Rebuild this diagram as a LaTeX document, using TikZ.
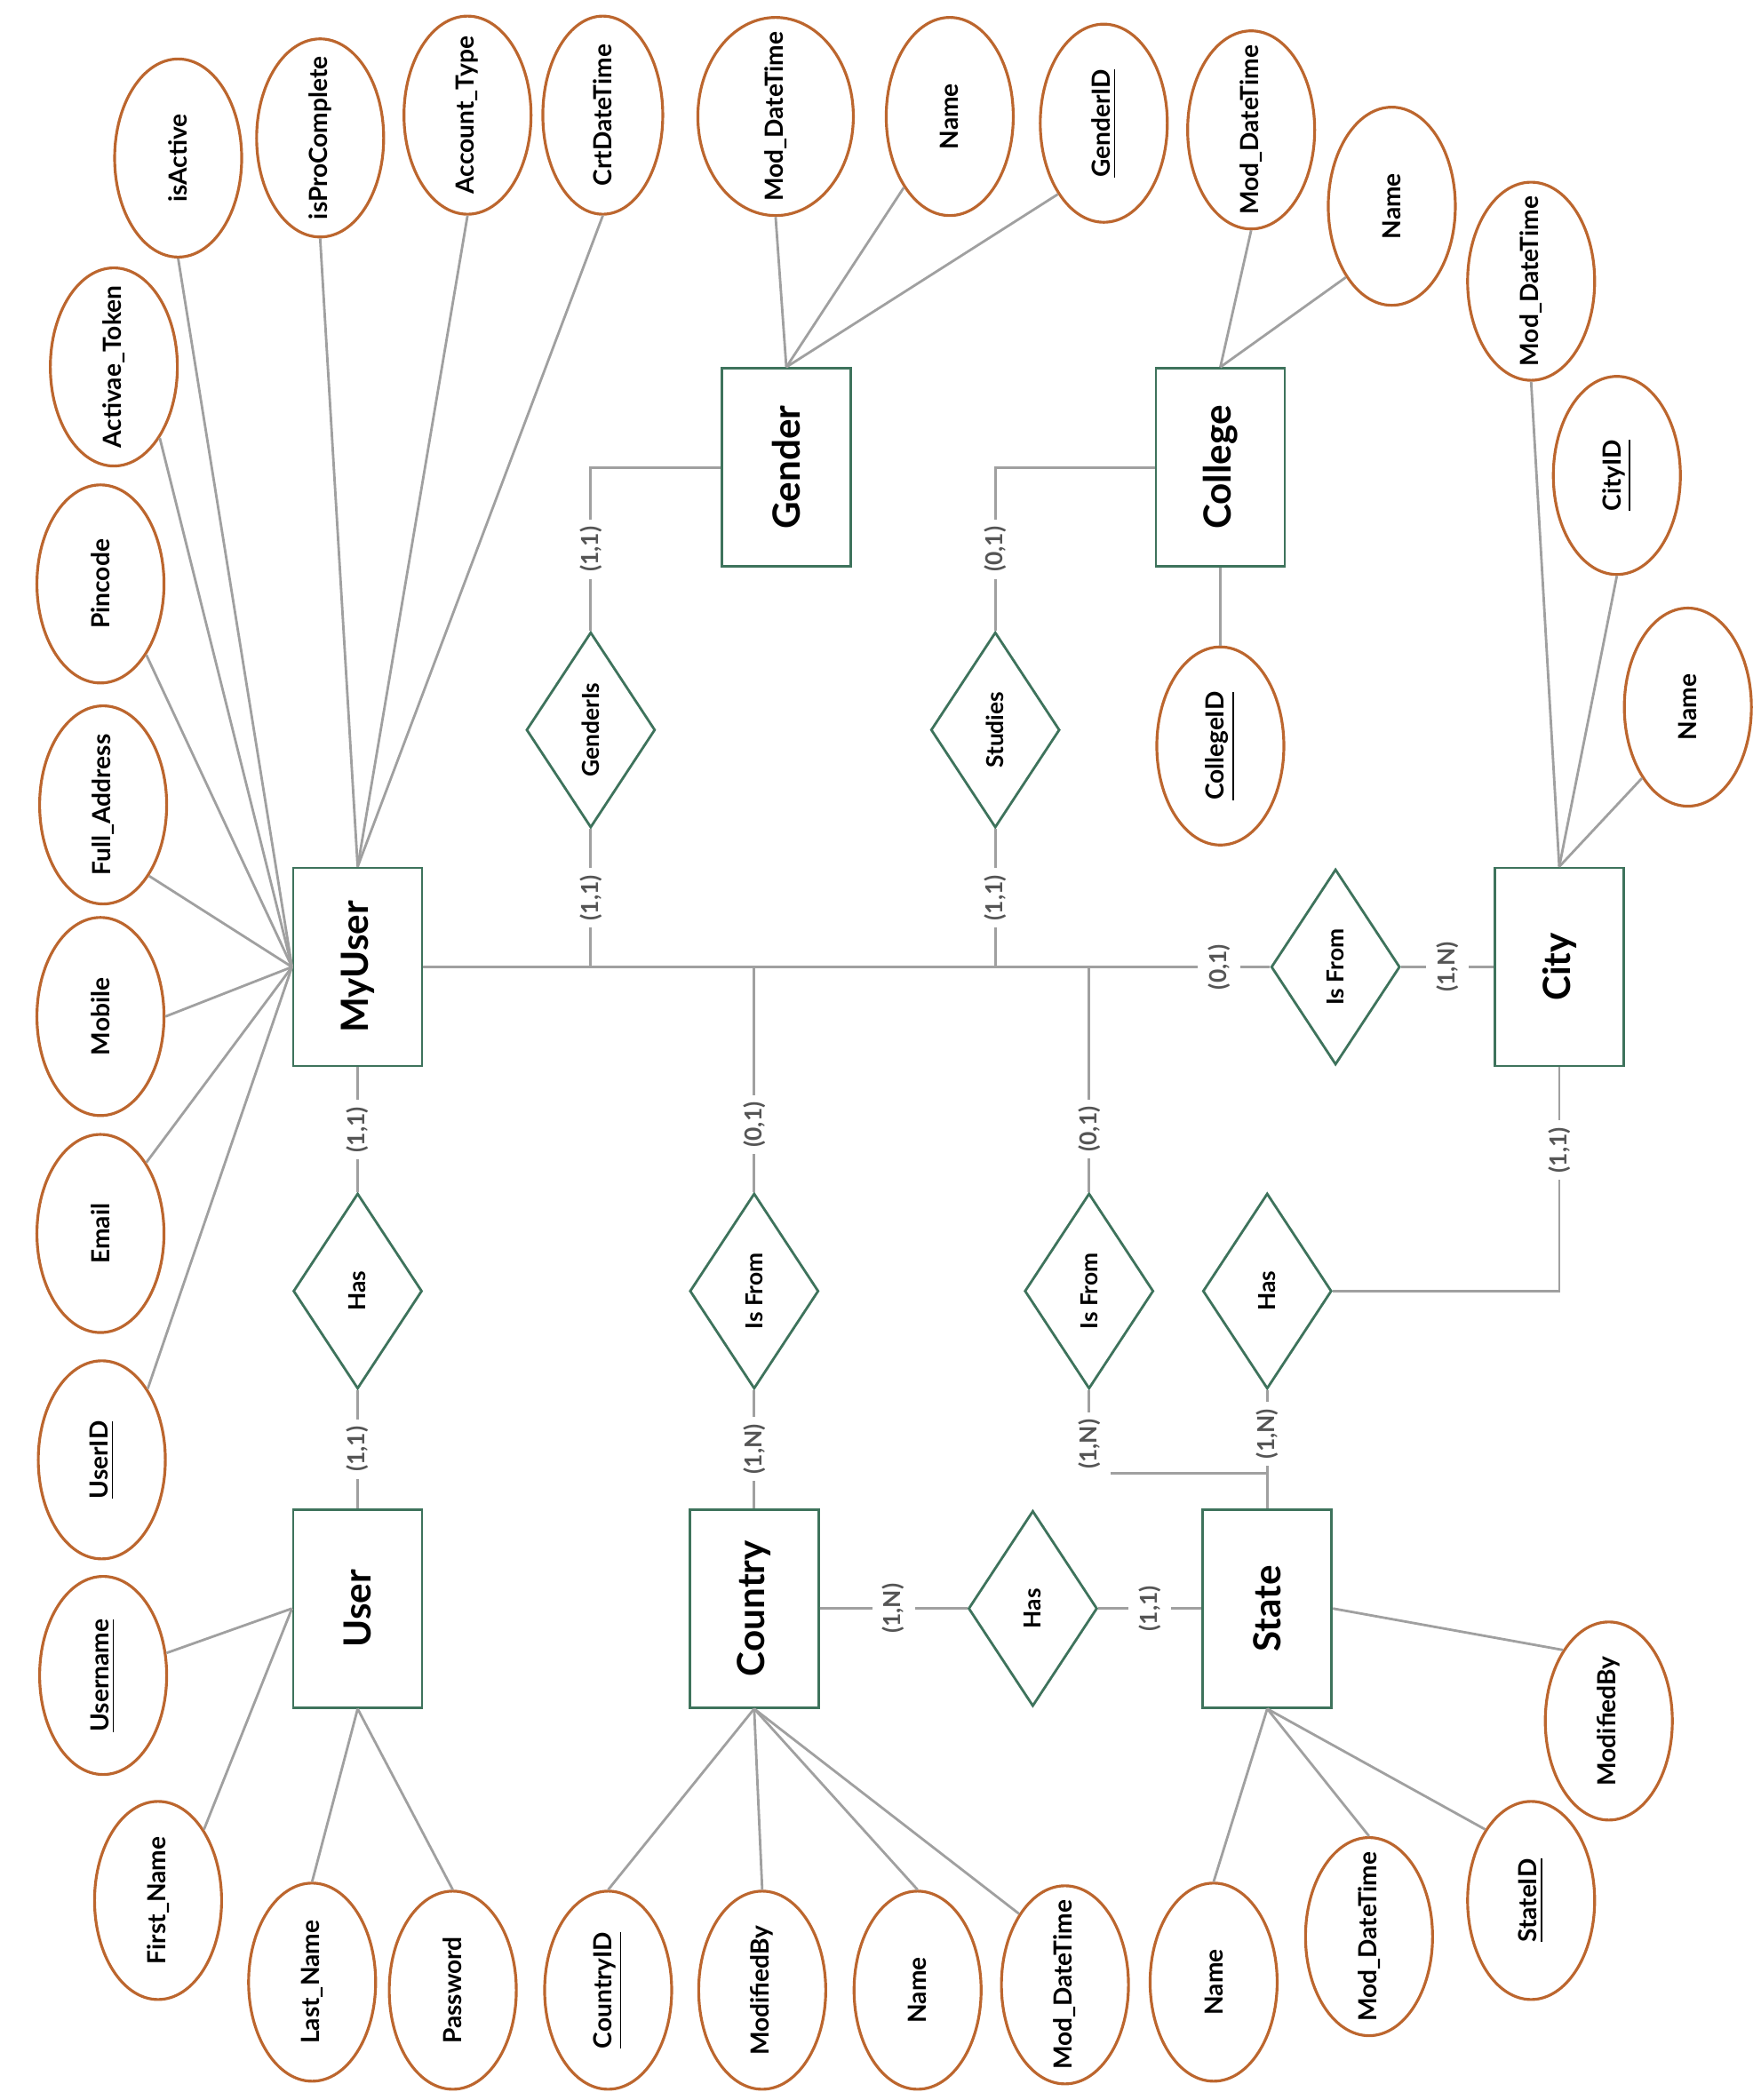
\documentclass[tikz,border=0pt]{standalone}
\usepackage{fontspec}
\setmainfont{Lato}
\usepackage{graphicx}
\usepackage{tikz}
\usetikzlibrary{shapes.geometric}

\definecolor{entgreen}{RGB}{62,115,92}
\definecolor{attorange}{RGB}{188,102,46}
\definecolor{linkgray}{RGB}{160,160,160}
\definecolor{cardgray}{RGB}{85,85,85}

\newcommand{\vtext}[1]{\rotatebox{90}{\makebox[0pt]{#1}}}

\begin{document}
\begin{tikzpicture}[
    x=0.015076cm, y=-0.015076cm,
    entity/.style={draw=entgreen, line width=0.8pt, fill=white,
                   minimum width=1.45cm, minimum height=2.23cm, inner sep=0pt,
                   font=\fontsize{12}{14}\selectfont\bfseries},
    rel/.style={diamond, draw=entgreen, line width=0.8pt, fill=white,
                minimum width=1.45cm, minimum height=2.2cm, inner sep=0pt,
                font=\fontsize{7.5}{9}\selectfont\bfseries},
    attr/.style={ellipse, draw=attorange, line width=0.9pt, fill=white,
                 minimum width=1.43cm, minimum height=2.23cm, inner sep=0pt,
                 font=\fontsize{8}{10}\selectfont\bfseries},
    link/.style={draw=linkgray, line width=0.8pt},
    card/.style={rotate=90, fill=white, text=cardgray,
                 inner xsep=2.2pt, inner ysep=3.3pt,
                 font=\fontsize{7.5}{9}\selectfont\bfseries},
  ]
    \useasboundingbox (0,0) rectangle (1314,1568);

    \node[entity] (myuser)  at (267,722)  {\vtext{MyUser}};
    \node[entity] (user)    at (267,1201) {\vtext{User}};
    \node[entity] (country) at (563,1201) {\vtext{Country}};
    \node[entity] (state)   at (946,1201) {\vtext{State}};
    \node[entity] (city)    at (1164,722) {\vtext{City}};
    \node[entity] (gender)  at (587,349)  {\vtext{Gender}};
    \node[entity] (college) at (911,349)  {\vtext{College}};

    \node[rel] (genderis)    at (441,545)  {\vtext{GenderIs}};
    \node[rel] (studies)     at (743,545)  {\vtext{Studies}};
    \node[rel] (cityfrom)    at (997,722)  {\vtext{Is From}};
    \node[rel] (userhas)     at (267,964)  {\vtext{Has}};
    \node[rel] (countryfrom) at (563,964)  {\vtext{Is From}};
    \node[rel] (statefrom)   at (813,964)  {\vtext{Is From}};
    \node[rel] (statehas)    at (946,964)  {\vtext{Has}};
    \node[rel] (countryhas)  at (771,1201) {\vtext{Has}};

    \node[attr] (isactive)  at (133,118)  {\vtext{isActive}};
    \node[attr] (isprocomp) at (239,103)  {\vtext{isProComplete}};
    \node[attr] (accttype)  at (349,86)   {\vtext{Account\_Type}};
    \node[attr, minimum width=1.35cm] (crtdt) at (450,86) {\vtext{CrtDateTime}};
    \node[attr] (acttoken)  at (85,274)   {\vtext{Activae\_Token}};
    \node[attr] (pincode)   at (75,436)   {\vtext{Pincode}};
    \node[attr] (fulladdr)  at (77,601)   {\vtext{Full\_Address}};
    \node[attr] (mobile)    at (75,759)   {\vtext{Mobile}};
    \node[attr] (email)     at (75,921)   {\vtext{Email}};
    \node[attr] (userid)    at (76,1090)  {\vtext{\underline{UserID}}};
    \node[attr] (username)  at (77,1251)  {\vtext{\underline{Username}}};
    \node[attr] (firstname) at (118,1419) {\vtext{First\_Name}};
    \node[attr] (lastname)  at (233,1480) {\vtext{Last\_Name}};
    \node[attr] (password)  at (338,1486) {\vtext{Password}};
    \node[attr] (countryid) at (454,1486) {\vtext{\underline{CountryID}}};
    \node[attr] (cmodby)    at (569,1486) {\vtext{ModifiedBy}};
    \node[attr] (cname)     at (685,1486) {\vtext{Name}};
    \node[attr] (cmoddt)    at (795,1482) {\vtext{Mod\_DateTime}};
    \node[attr] (sname)     at (906,1480) {\vtext{Name}};
    \node[attr] (smoddt)    at (1022,1446) {\vtext{Mod\_DateTime}};
    \node[attr] (stateid)   at (1143,1419) {\vtext{\underline{StateID}}};
    \node[attr] (smodby)    at (1201,1285) {\vtext{ModifiedBy}};
    \node[attr] (ciname)    at (1260,528)  {\vtext{Name}};
    \node[attr] (cityid)    at (1207,355)  {\vtext{\underline{CityID}}};
    \node[attr] (cimoddt)   at (1143,210)  {\vtext{Mod\_DateTime}};
    \node[attr] (collegeid) at (911,557)   {\vtext{\underline{CollegeID}}};
    \node[attr] (coname)    at (1039,154)  {\vtext{Name}};
    \node[attr] (comoddt)   at (934,97)    {\vtext{Mod\_DateTime}};
    \node[attr] (genderid)  at (824,92)    {\vtext{\underline{GenderID}}};
    \node[attr] (gname)     at (709,87)    {\vtext{Name}};
    \node[attr, minimum width=1.75cm] (gmoddt) at (579,87) {\vtext{Mod\_DateTime}};

    \coordinate (stelbow) at (946,1100);

    \draw[link] (isactive.south)      -- (myuser.west);
    \draw[link] (acttoken.south east) -- (myuser.west);
    \draw[link] (pincode.south east)  -- (myuser.west);
    \draw[link] (fulladdr.south east) -- (myuser.west);
    \draw[link] (mobile.east)         -- (myuser.west);
    \draw[link] (email.north east)    -- (myuser.west);
    \draw[link] (userid.north east)   -- (myuser.west);
    \draw[link] (isprocomp.south)     -- (myuser.north);
    \draw[link] (accttype.south)      -- (myuser.north);
    \draw[link] (crtdt.south)         -- (myuser.north);

    \draw[link] (username)             -- (user.west);
    \draw[link] (firstname.north east) -- (user.west);
    \draw[link] (lastname.north)       -- (user.south);
    \draw[link] (password.north)       -- (user.south);

    \draw[link] (countryid.north)  -- (country.south);
    \draw[link] (cmodby.north)     -- (country.south);
    \draw[link] (cname.north)      -- (country.south);
    \draw[link] (cmoddt.north west) -- (country.south);

    \draw[link] (sname.north)        -- (state.south);
    \draw[link] (smoddt.north)       -- (state.south);
    \draw[link] (stateid.north west) -- (state.south);
    \draw[link] (smodby.north west)  -- (state.east);

    \draw[link] (ciname.south west) -- (city.north);
    \draw[link] (cityid.south)      -- (city.north);
    \draw[link] (cimoddt.south)     -- (city.north);

    \draw[link] (collegeid.north)    -- (college.south);
    \draw[link] (coname.south west)  -- (college.north);
    \draw[link] (comoddt.south)      -- (college.north);

    \draw[link] (genderid.south west) -- (gender.north);
    \draw[link] (gname.south west)    -- (gender.north);
    \draw[link] (gmoddt.south)        -- (gender.north);

    \draw[link] (myuser.east) -- node[card, pos=0.94] {(0,1)} (cityfrom.west);
    \draw[link] (cityfrom.east) -- node[card] {(1,N)} (city.west);
    \draw[link] (genderis.south) -- node[card] {(1,1)} (genderis.south |- myuser.east);
    \draw[link] (genderis.north) -- node[card] {(1,1)} (genderis.north |- gender.west) -- (gender.west);
    \draw[link] (studies.south) -- node[card] {(1,1)} (studies.south |- myuser.east);
    \draw[link] (studies.north) -- node[card] {(0,1)} (studies.north |- college.west) -- (college.west);
    \draw[link] (countryfrom.north |- myuser.east) -- node[card, pos=0.7] {(0,1)} (countryfrom.north);
    \draw[link] (countryfrom.south) -- node[card] {(1,N)} (country.north);
    \draw[link] (statefrom.north |- myuser.east) -- node[card, pos=0.72] {(0,1)} (statefrom.north);
    \draw[link] (statefrom.south) -- node[card, pos=0.65] {(1,N)} (statefrom.south |- stelbow) -- (stelbow) -- (state.north);
    \draw[link] (myuser.south) -- node[card] {(1,1)} (userhas.north);
    \draw[link] (userhas.south) -- node[card] {(1,1)} (user.north);
    \draw[link] (statehas.south) -- node[card, pos=0.37] {(1,N)} (state.north);
    \draw[link] (statehas.east) -- (statehas.east -| city.south) -- node[card, pos=0.63] {(1,1)} (city.south);
    \draw[link] (country.east) -- node[card] {(1,N)} (countryhas.west);
    \draw[link] (countryhas.east) -- node[card] {(1,1)} (state.west);
  \end{tikzpicture}
\end{document}
